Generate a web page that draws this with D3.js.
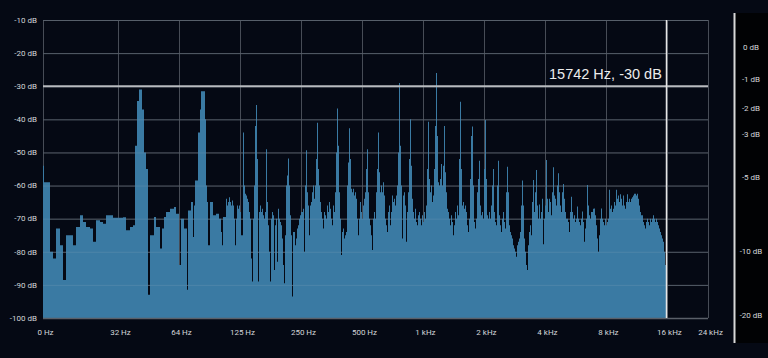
<!DOCTYPE html>
<html><head><meta charset="utf-8">
<script src="https://cdn.jsdelivr.net/npm/d3@7"></script>
<style>html,body{margin:0;padding:0;background:#050914;overflow:hidden}</style>
</head><body><svg id="c" width="768" height="358"></svg>
<script>
// ---- data ----
const yTicksDb = [-10,-20,-30,-40,-50,-60,-70,-80,-90,-100];
const xTickHz = [13.33,31.25,62.5,125,250,500,1000,2000,4000,8000,16000,25500];
const xTickLabels = ["0 Hz","32 Hz","64 Hz","125 Hz","250 Hz","500 Hz","1 kHz","2 kHz","4 kHz","8 kHz","16 kHz","24 kHz"];
const meterTicksDb = [0,-1,-2,-3,-5,-10,-20];
const spectrumStartHz = 13.33;
const binsPerOctave = 61;
const cursorHz = 15742;
const cursorDb = -30;
// spectrum level per bin (dB)
const levels = [
-54,-59,-59,-59,-59,-59,-59,-80,-80,-80,
-82,-82,-82,-73,-73,-73,-73,-78,-78,-78,
-88.5,-88.5,-88.5,-75,-75,-75,-75,-75,-75,-75,
-78,-78,-78,-72.5,-72.5,-72.5,-72.5,-69,-69,-69,
-71,-71,-71,-72.5,-72.5,-72.5,-72.5,-73,-73,-73,
-77,-77,-77,-70.5,-70.5,-70.5,-70.5,-71,-71,-71,
-71.5,-71.5,-71.5,-69,-69,-69,-69,-69,-69,-69,
-69.7,-69.7,-69.7,-69.7,-69.7,-69.7,-69.7,-69.7,-69.7,-69.7,
-69.6,-69.6,-69.6,-73.5,-73.5,-73.5,-73.5,-72.5,-72.5,-72.5,
-72,-72,-48,-48,-34.5,-34.5,-31,-31,-31,-37,
-37,-50,-50,-55,-55,-93,-93,-75,-75,-75,
-75,-69.5,-69.5,-72.5,-72.5,-72.5,-72.5,-79,-79,-73,
-73,-69.5,-69.5,-68,-68,-68,-68,-67,-67,-67,
-67,-66.5,-66.5,-68.5,-68.5,-68.5,-84,-84,-70,-70,
-70,-73,-73,-73,-91.5,-67.5,-67.5,-67.5,-65,-65,
-75.5,-66,-58.5,-58.5,-58.5,-44,-44,-37,-31.5,-31.5,
-31.5,-31.5,-40,-60,-65,-78,-78,-65,-65,-65,
-69,-69,-69,-68.5,-68.5,-68.5,-70,-70,-74,-78,
-69.5,-69.5,-69.5,-64,-66,-65,-63.5,-65,-66,-64.5,
-66,-70,-78,-70,-66,-67,-66,-68,-75,-75,
-44,-60,-62.5,-63,-64,-65,-68,-70,-82,-89,
-70,-60,-42,-35.7,-52,-89,-68,-66,-68,-67,
-69,-70,-68,-49,-65,-72,-80,-89,-70,-68,
-69,-85.5,-72,-70,-83,-67,-70,-71,-72,-76,
-84,-89.5,-75,-60,-57,-51.8,-60,-69,-75,-93.5,
-74,-74,-78,-76,-73,-72,-70,-69,-68,-68,
-67,-80,-60,-49.3,-62,-66,-75,-66,-65,-62,
-60,-64,-60,-52,-41,-55,-60,-65,-68,-70,
-73,-68,-69,-70,-66,-68,-65,-67,-70,-72,
-66,-68,-62,-50,-36.7,-48,-62,-70,-81,-74,
-73,-76,-75,-74,-60,-53,-42.7,-52,-61,-62,
-61,-63,-62,-64,-70,-75,-70,-65,-68,-70,
-66,-64,-62,-55,-49,-62,-70,-72,-75,-79.5,
-70,-68,-70,-62,-55,-44,-56,-62,-60,-62,
-59,-63,-70,-72,-74,-68,-66,-72,-68,-63,
-65,-64,-66,-63,-60,-50,-29,-48,-60,-76,
-63,-62,-66,-77,-68,-62,-52,-40,-54,-64,
-68,-70,-67,-71,-72,-69,-68,-70,-72,-69,
-71,-68,-70,-66,-55,-40.7,-58,-62,-60,-65,
-63,-55,-42,-26,-45,-59,-60,-58,-53.5,-60,
-54,-42,-56,-62,-67,-68,-70,-72,-69,-71,
-75,-72,-68,-70,-66,-69,-52,-34.7,-55,-66,
-65,-67,-66,-68,-72,-74,-70,-58,-45,-42.2,
-60,-71,-73,-70,-62,-58,-52.5,-66,-69,-68,
-70,-55,-40.2,-58,-69,-70,-68,-70,-66,-60,
-55,-68,-71,-72,-60,-52.5,-69,-72,-74,-70,
-68,-71,-73,-62,-54.3,-62,-72,-74,-75,-76,
-78,-79,-80,-81.5,-78,-77,-76,-74,-66,-58.5,
-66,-76,-80,-84,-85.5,-78,-74,-72,-75,-65,
-58.3,-68,-62,-55.3,-66,-70,-65.7,-70,-68,-64,
-77.7,-70,-66,-52.3,-64,-68,-64,-65,-69,-62,
-54.5,-63,-64,-66,-60,-56.3,-62,-66,-68,-62,
-59.5,-64,-68,-70,-70,-71,-74,-68,-63.4,-68,
-70,-69,-71,-70,-66.3,-70,-71,-72,-70,-67.8,
-71,-77,-73,-70,-59.8,-66,-69,-70,-68,-68,
-67,-66.9,-69,-72,-76,-80,-75,-70,-66.9,-70,
-71,-72,-70,-72,-71,-70,-61.3,-67,-66,-68,
-67,-65,-66,-61.3,-64,-63,-65,-62.6,-64,-66,
-63,-66,-67,-65,-62.6,-65,-64,-65,-64,-63.5,
-63,-62.5,-62.5,-63,-62.5,-64,-66,-68,-69,-69,
-71,-72,-73,-71,-70,-71,-72,-70,-71,-70,
-69,-70,-71,-70,-71,-72,-73,-74,-75,-76,
-77,-80,-84,-88.5
];

// ---- chart ----
const W = 768, H = 358;
const svg = d3.select("#c");
const bg = "#050914";
svg.append("rect").attr("width", W).attr("height", H).attr("fill", bg);

const x = d3.scaleLog().domain([xTickHz[0], xTickHz[xTickHz.length-1]]).range([43, 708]);
const y = d3.scaleLinear().domain([-100, -10]).range([318, 20]);

const gridColor = "#474c56";
const labelColor = "#d4d6da";
const font = "Roboto, 'Liberation Sans', sans-serif";

// grid
const grid = svg.append("g");
grid.selectAll("line.h").data(yTicksDb).join("line")
  .attr("x1", x.range()[0]).attr("x2", x.range()[1])
  .attr("y1", d => y(d) + 0.5).attr("y2", d => y(d) + 0.5)
  .attr("stroke", gridColor).attr("stroke-width", 1);
grid.selectAll("line.v").data(xTickHz).join("line")
  .attr("x1", d => Math.round(x(d)) + 0.5).attr("x2", d => Math.round(x(d)) + 0.5)
  .attr("y1", y(-10)).attr("y2", y(-100))
  .attr("stroke", gridColor).attr("stroke-width", 1);

// spectrum
const bins = levels.map((db, i) => ({ hz: spectrumStartHz * Math.pow(2, i / binsPerOctave), db }));
const last = bins[bins.length - 1];
bins.push({ hz: spectrumStartHz * Math.pow(2, levels.length / binsPerOctave), db: last.db });
const area = d3.area()
  .x(d => x(d.hz)).y0(y(-100)).y1(d => y(Math.max(-100, d.db)))
  .curve(d3.curveStepAfter);
svg.append("path").datum(bins).attr("d", area).attr("fill", "#3a7aa3");

// faint grid overlay on spectrum
const over = svg.append("g").attr("opacity", 0.18);
over.selectAll("line").data(yTicksDb.slice(0, -1)).join("line")
  .attr("x1", x.range()[0]).attr("x2", x.range()[1])
  .attr("y1", d => y(d) + 0.5).attr("y2", d => y(d) + 0.5)
  .attr("stroke", "#9fb4c4");

// bottom axis line
svg.append("line").attr("x1", 43).attr("x2", 708).attr("y1", y(-100) + 0.5).attr("y2", y(-100) + 0.5)
  .attr("stroke", "#5a5f68").attr("stroke-width", 1.5);

// y labels
svg.append("g").selectAll("text").data(yTicksDb).join("text")
  .attr("x", 37).attr("y", d => y(d)).attr("dy", "0.35em")
  .attr("text-anchor", "end").attr("fill", labelColor)
  .attr("font-family", font).attr("font-size", 8)
  .text(d => `${d} dB`);

// x labels
svg.append("g").selectAll("text").data(xTickHz).join("text")
  .attr("x", d => x(d) + 2.5).attr("y", 335)
  .attr("text-anchor", "middle").attr("fill", labelColor)
  .attr("font-family", font).attr("font-size", 8)
  .text((d, i) => xTickLabels[i]);

// cursor
svg.append("line").attr("x1", 43).attr("x2", 708).attr("y1", y(cursorDb)).attr("y2", y(cursorDb))
  .attr("stroke", "#b9bbbf").attr("stroke-width", 2);
svg.append("line").attr("x1", Math.round(x(cursorHz)) + 0.5).attr("x2", Math.round(x(cursorHz)) + 0.5)
  .attr("y1", y(-10)).attr("y2", y(-100))
  .attr("stroke", "#e6e6e6").attr("stroke-width", 1.5);
svg.append("text").attr("x", 549).attr("y", 79)
  .attr("fill", "#ececec").attr("font-family", "'Liberation Sans', Arial, sans-serif")
  .attr("font-size", 14.5)
  .text(`${cursorHz} Hz, ${cursorDb} dB`);

// level meter panel
const m = d3.scaleLinear().domain([0, 1]).range([345, 47]);
svg.append("rect").attr("x", 735).attr("y", 13).attr("width", 33).attr("height", 330).attr("fill", "#010204");
svg.append("line").attr("x1", 734.5).attr("x2", 734.5).attr("y1", 13).attr("y2", 343)
  .attr("stroke", "#d8d8d8").attr("stroke-width", 2);
svg.append("g").selectAll("text").data(meterTicksDb).join("text")
  .attr("x", 751).attr("y", d => m(Math.pow(10, d / 20))).attr("dy", "0.35em")
  .attr("text-anchor", "middle").attr("fill", labelColor)
  .attr("font-family", font).attr("font-size", 8)
  .text(d => `${d} dB`);
</script>
</body></html>
